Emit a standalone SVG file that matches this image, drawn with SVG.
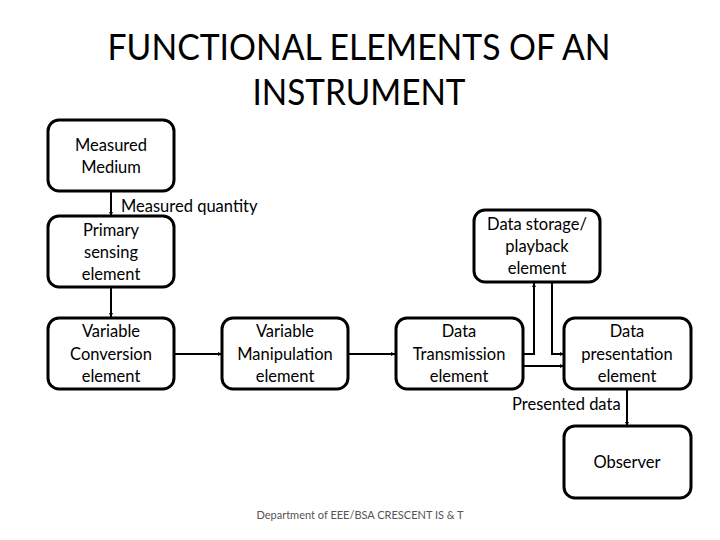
<svg xmlns="http://www.w3.org/2000/svg" width="720" height="540" viewBox="0 0 720 540">
<style>
.box{fill:#fff;stroke:#000;stroke-width:3;}
.t{font-family:Lato,"Liberation Sans",sans-serif;font-size:16.5px;fill:#000;text-anchor:middle;}
.lab{font-family:Lato,"Liberation Sans",sans-serif;font-size:16.5px;fill:#000;}
.title{font-family:Lato,"Liberation Sans",sans-serif;font-size:37px;fill:#000;text-anchor:middle;}
.foot{font-family:Lato,"Liberation Sans",sans-serif;font-size:11px;fill:#555;text-anchor:middle;}
.c{fill:none;stroke:#000;stroke-width:2;marker-end:url(#ah);}
</style>
<defs>
<marker id="ah" viewBox="0 0 6 6" refX="6" refY="3" markerWidth="2.2" markerHeight="2.2" orient="auto" markerUnits="strokeWidth">
<path d="M0,0 L6,3 L0,6 Z" fill="#000"/>
</marker>
</defs>
<rect width="720" height="540" fill="#fff"/>
<g id="title">
<text class="title" x="359" y="60" textLength="503" lengthAdjust="spacingAndGlyphs">FUNCTIONAL ELEMENTS OF AN</text>
<text class="title" x="359" y="105" textLength="213" lengthAdjust="spacingAndGlyphs">INSTRUMENT</text>
</g>
<g id="connectors">
<path class="c" d="M111,192 V216"/>
<path class="c" d="M111,287 V317"/>
<path class="c" d="M175,354 H222"/>
<path class="c" d="M348,354 H395"/>
<path class="c" d="M523,354 H534 V283"/>
<path class="c" d="M552,283 V354 H564"/>
<path class="c" d="M523,366 H564"/>
<path class="c" d="M627,390 V426"/>
</g>
<g id="measured-medium">
<rect class="box" x="48" y="120" width="126" height="71" rx="11"/>
<text class="t" x="111" y="151">Measured</text>
<text class="t" x="111" y="173">Medium</text>
</g>
<g id="primary-sensing">
<rect class="box" x="48" y="216" width="126" height="71" rx="11"/>
<text class="t" x="111" y="236">Primary</text>
<text class="t" x="111" y="258">sensing</text>
<text class="t" x="111" y="280">element</text>
</g>
<g id="variable-conversion">
<rect class="box" x="48" y="318" width="126" height="71" rx="11"/>
<text class="t" x="111" y="337">Variable</text>
<text class="t" x="111" y="360">Conversion</text>
<text class="t" x="111" y="382">element</text>
</g>
<g id="variable-manipulation">
<rect class="box" x="222" y="318" width="126" height="71" rx="11"/>
<text class="t" x="285" y="337">Variable</text>
<text class="t" x="285" y="360">Manipulation</text>
<text class="t" x="285" y="382">element</text>
</g>
<g id="data-transmission">
<rect class="box" x="396" y="318" width="127" height="71" rx="11"/>
<text class="t" x="459" y="337">Data</text>
<text class="t" x="459" y="360">Transmission</text>
<text class="t" x="459" y="382">element</text>
</g>
<g id="data-storage">
<rect class="box" x="474" y="210" width="126" height="72" rx="11"/>
<text class="t" x="537" y="230">Data storage/</text>
<text class="t" x="537" y="252">playback</text>
<text class="t" x="537" y="274">element</text>
</g>
<g id="data-presentation">
<rect class="box" x="564" y="318" width="127" height="71" rx="11"/>
<text class="t" x="627" y="337">Data</text>
<text class="t" x="627" y="360">presentation</text>
<text class="t" x="627" y="382">element</text>
</g>
<g id="observer">
<rect class="box" x="564" y="426" width="127" height="72" rx="11"/>
<text class="t" x="627" y="468">Observer</text>
</g>
<g id="labels">
<text class="lab" x="121" y="212">Measured quantity</text>
<text class="lab" x="512" y="410">Presented data</text>
</g>
<g id="footer">
<text class="foot" x="360" y="519">Department of EEE/BSA CRESCENT IS &amp; T</text>
</g>
</svg>
